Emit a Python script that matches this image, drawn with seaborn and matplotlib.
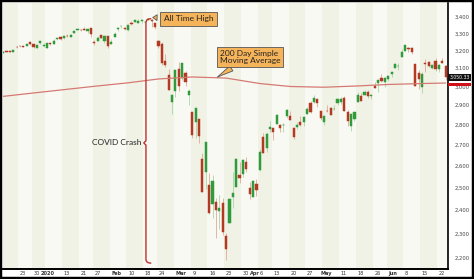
import matplotlib
matplotlib.use("Agg")
import matplotlib.pyplot as plt
import matplotlib.ticker as mticker
import matplotlib.transforms as mtransforms
from matplotlib.patches import Rectangle, PathPatch
from matplotlib.path import Path
import seaborn as sns
import numpy as np
import pandas as pd

# ---------------- data ----------------
dates = (
    ["2019-12-%s" % d for d in ["16", "17", "18", "19", "20", "23", "24", "26", "27", "30", "31"]]
    + ["2020-01-%s" % d for d in ["02", "03", "06", "07", "08", "09", "10", "13", "14", "15", "16", "17",
                                  "21", "22", "23", "24", "27", "28", "29", "30", "31"]]
    + ["2020-02-%s" % d for d in ["03", "04", "05", "06", "07", "10", "11", "12", "13", "14", "18", "19",
                                  "20", "21", "24", "25", "26", "27", "28"]]
    + ["2020-03-%s" % d for d in ["02", "03", "04", "05", "06", "09", "10", "11", "12", "13", "16", "17",
                                  "18", "19", "20", "23", "24", "25", "26", "27", "30", "31"]]
    + ["2020-04-%s" % d for d in ["01", "02", "03", "06", "07", "08", "09", "13", "14", "15", "16", "17",
                                  "20", "21", "22", "23", "24", "27", "28", "29", "30"]]
    + ["2020-05-%s" % d for d in ["01", "04", "05", "06", "07", "08", "11", "12", "13", "14", "15", "18",
                                  "19", "20", "21", "22", "26", "27", "28", "29"]]
    + ["2020-06-%s" % d for d in ["01", "02", "03", "04", "05", "08", "09", "10", "11", "12", "15", "16",
                                  "17", "18", "19", "22", "23", "24"]]
)

opens = [
    3183.63, 3195.40, 3195.21, 3192.32, 3223.33, 3226.05, 3225.45, 3227.20, 3247.23, 3240.09, 3215.18,
    3244.67, 3226.36, 3217.55, 3241.86, 3238.59, 3266.03, 3281.81, 3271.13, 3285.35, 3282.27, 3302.97,
    3323.66, 3321.03, 3330.02, 3315.77, 3333.10, 3247.16, 3255.35, 3289.46, 3256.45, 3282.33,
    3235.66, 3280.61, 3324.91, 3344.92, 3335.54, 3318.28, 3365.87, 3370.50, 3365.90, 3378.08, 3369.04,
    3380.39, 3380.45, 3360.50, 3257.61, 3238.94, 3139.90, 3062.54, 2916.90,
    2974.28, 3096.46, 3045.75, 3075.70, 2954.20, 2863.89, 2813.48, 2825.60, 2630.86, 2569.99, 2508.59,
    2425.66, 2436.50, 2393.48, 2431.94, 2290.71, 2344.44, 2457.77, 2501.29, 2555.87, 2558.98, 2614.69,
    2498.08, 2458.54, 2514.92, 2578.28, 2738.65, 2685.00, 2776.99, 2782.46, 2805.10, 2795.64, 2799.34,
    2842.43, 2845.62, 2784.81, 2787.89, 2810.42, 2812.64, 2854.65, 2909.96, 2918.46, 2930.91,
    2869.09, 2815.01, 2868.88, 2883.14, 2878.26, 2908.83, 2915.46, 2939.50, 2865.86, 2794.54, 2829.95,
    2913.86, 2948.59, 2953.63, 2969.95, 2948.05, 3004.08, 3015.65, 3046.61, 3025.17,
    3038.78, 3064.78, 3098.90, 3111.56, 3163.84, 3199.92, 3213.32, 3213.42, 3123.53, 3071.04, 2993.76,
    3131.00, 3136.13, 3101.64, 3140.29, 3094.42, 3138.70, 3114.40,
]
highs = [
    3197.71, 3198.22, 3198.48, 3205.48, 3225.65, 3227.78, 3226.43, 3240.08, 3247.93, 3240.92, 3231.72,
    3258.14, 3246.15, 3246.84, 3244.91, 3267.07, 3275.58, 3282.99, 3288.13, 3294.25, 3298.66, 3317.11,
    3329.88, 3329.79, 3337.77, 3326.88, 3333.18, 3258.85, 3285.78, 3293.47, 3285.91, 3282.33,
    3268.44, 3306.92, 3337.58, 3347.96, 3341.42, 3352.26, 3375.63, 3381.47, 3385.09, 3380.69, 3375.01,
    3393.52, 3389.15, 3360.76, 3259.81, 3246.99, 3182.51, 3097.07, 2959.72,
    3090.96, 3136.72, 3130.97, 3083.04, 2985.93, 2863.89, 2882.59, 2825.60, 2660.95, 2711.33, 2562.98,
    2553.93, 2453.57, 2466.97, 2453.01, 2300.73, 2449.71, 2571.42, 2637.01, 2615.91, 2631.80, 2641.39,
    2522.75, 2533.22, 2538.18, 2676.85, 2756.89, 2760.75, 2818.57, 2782.46, 2851.85, 2801.88, 2806.51,
    2879.22, 2868.98, 2785.54, 2815.10, 2844.90, 2842.71, 2887.72, 2921.15, 2954.86, 2930.91,
    2869.09, 2844.24, 2898.23, 2891.11, 2901.92, 2932.16, 2944.25, 2945.82, 2874.14, 2852.80, 2865.01,
    2968.09, 2964.21, 2980.29, 2978.50, 2956.76, 3021.72, 3036.25, 3068.67, 3049.17,
    3062.18, 3081.07, 3130.94, 3128.91, 3211.72, 3233.13, 3222.71, 3223.27, 3123.53, 3088.42, 3079.76,
    3153.45, 3141.16, 3120.00, 3155.53, 3120.92, 3154.90, 3115.01,
]
lows = [
    3183.63, 3191.03, 3191.14, 3192.32, 3216.03, 3222.30, 3220.51, 3227.20, 3234.37, 3216.57, 3212.03,
    3235.53, 3222.34, 3214.64, 3232.43, 3236.67, 3263.67, 3260.86, 3268.43, 3277.19, 3280.69, 3302.82,
    3318.86, 3316.61, 3320.04, 3301.87, 3281.53, 3234.50, 3253.22, 3271.89, 3242.80, 3214.68,
    3235.66, 3280.61, 3313.75, 3334.39, 3322.12, 3317.77, 3352.72, 3369.72, 3360.52, 3366.15, 3355.61,
    3378.83, 3341.02, 3328.45, 3214.65, 3118.77, 3108.99, 2977.39, 2855.84,
    2945.19, 2976.63, 3034.38, 2999.83, 2901.54, 2734.43, 2734.00, 2707.22, 2478.86, 2492.37, 2380.94,
    2367.04, 2280.52, 2319.78, 2295.56, 2191.86, 2344.44, 2407.53, 2500.72, 2520.02, 2545.28, 2571.15,
    2447.49, 2455.79, 2459.96, 2574.57, 2657.67, 2663.30, 2762.36, 2721.17, 2805.10, 2761.54, 2764.32,
    2830.88, 2820.43, 2727.10, 2775.95, 2794.26, 2791.76, 2852.89, 2860.71, 2912.16, 2892.47,
    2821.61, 2797.85, 2863.55, 2847.65, 2876.48, 2902.88, 2903.44, 2869.59, 2793.15, 2766.64, 2816.78,
    2913.86, 2922.35, 2953.63, 2938.57, 2933.59, 2988.17, 2969.75, 3023.40, 2998.61,
    3031.54, 3051.64, 3098.90, 3090.41, 3163.84, 3196.00, 3193.11, 3181.49, 2999.49, 2984.47, 2965.66,
    3076.06, 3108.03, 3093.51, 3083.11, 3079.39, 3127.12, 3032.13,
]
closes = [
    3191.45, 3192.52, 3191.14, 3205.37, 3221.22, 3224.01, 3223.38, 3239.91, 3240.02, 3221.29, 3230.78,
    3257.85, 3234.85, 3246.28, 3237.18, 3253.05, 3274.70, 3265.35, 3288.13, 3283.15, 3289.29, 3316.81,
    3329.62, 3320.79, 3321.75, 3325.54, 3295.47, 3243.63, 3276.24, 3273.40, 3283.66, 3225.52,
    3248.92, 3297.59, 3334.69, 3345.78, 3327.71, 3352.09, 3357.75, 3379.45, 3373.94, 3380.16, 3370.29,
    3386.15, 3373.23, 3337.75, 3225.89, 3128.21, 3116.39, 2978.76, 2954.22,
    3090.23, 3003.37, 3130.12, 3023.94, 2972.37, 2746.56, 2882.23, 2741.38, 2480.64, 2711.02, 2386.13,
    2529.19, 2398.10, 2409.39, 2304.92, 2237.40, 2447.33, 2475.56, 2630.07, 2541.47, 2626.65, 2584.59,
    2470.50, 2526.90, 2488.65, 2663.68, 2659.41, 2749.98, 2789.82, 2761.63, 2846.06, 2783.36, 2799.55,
    2874.56, 2823.16, 2736.56, 2799.31, 2797.80, 2836.74, 2878.48, 2863.39, 2939.51, 2912.43,
    2830.71, 2842.74, 2868.44, 2848.42, 2881.19, 2929.80, 2930.32, 2870.12, 2820.00, 2852.50, 2863.70,
    2953.91, 2922.94, 2971.61, 2948.51, 2955.45, 2991.77, 3036.13, 3029.73, 3044.31,
    3055.73, 3080.82, 3122.87, 3112.35, 3193.93, 3232.39, 3207.18, 3190.14, 3002.10, 3041.31, 3066.59,
    3124.74, 3113.49, 3115.34, 3097.74, 3117.86, 3131.29, 3050.33,
]

sma_dates = ["2019-12-16", "2019-12-30", "2020-01-13", "2020-01-27", "2020-02-10", "2020-02-24",
             "2020-03-09", "2020-03-23", "2020-04-06", "2020-04-20", "2020-05-04", "2020-05-18",
             "2020-06-01", "2020-06-15", "2020-06-24"]
sma_values = [2946, 2964, 2982, 3000, 3019, 3040, 3051, 3045, 3015, 2999, 2995, 3002, 3010, 3015, 3018]
last_close_label = "3,050.33"

y_ticks = [2200, 2300, 2400, 2500, 2600, 2700, 2800, 2900, 3000, 3100, 3200, 3300, 3400, 3500]
x_tick_dates = ["2019-12-23", "2019-12-30", "2020-01-02", "2020-01-13", "2020-01-21", "2020-01-27",
                "2020-02-03", "2020-02-10", "2020-02-18", "2020-02-24", "2020-03-02", "2020-03-09",
                "2020-03-16", "2020-03-23", "2020-03-30", "2020-04-01", "2020-04-06", "2020-04-13",
                "2020-04-20", "2020-04-27", "2020-05-01", "2020-05-11", "2020-05-18", "2020-05-26",
                "2020-06-01", "2020-06-08", "2020-06-15", "2020-06-22"]
x_tick_labels = ["23", "30", "2020", "13", "21", "27", "Feb", "10", "18", "24", "Mar", "9", "16", "23",
                 "30", "Apr", "6", "13", "20", "27", "May", "11", "18", "26", "Jun", "8", "15", "22"]
bold_labels = {"2020", "Feb", "Mar", "Apr", "May", "Jun"}

# ---------------- figure ----------------
sns.set_style("white")
plt.rcParams["font.family"] = ["Lato", "DejaVu Sans"]

df = pd.DataFrame({"date": pd.to_datetime(dates), "open": opens, "high": highs,
                   "low": lows, "close": closes})
df["pos"] = np.arange(len(df))
pos_of = {d: i for i, d in enumerate(dates)}

W, H = 474, 279
fig = plt.figure(figsize=(W / 100, H / 100), dpi=100)
fig.patch.set_facecolor("white")
ax = fig.add_axes([2.5 / W, 1 - 269 / H, (448 - 2.5) / W, (269 - 3) / H])
ax.set_facecolor("#f6f6ee")

# weekly background bands
week_key = df["date"].dt.isocalendar().week.values
starts = [0] + [i for i in range(1, len(df)) if week_key[i] != week_key[i - 1]]
starts.append(len(df))
band_cols = ["#f1f2e6", "#f9f9f4"]
for k in range(len(starts) - 1):
    ax.axvspan(starts[k] - 0.5, starts[k + 1] - 0.5, color=band_cols[k % 2], lw=0, zorder=0)
ax.axvspan(starts[-1] - 0.5, 140, color=band_cols[(len(starts) - 1) % 2], lw=0, zorder=0)

# candles
up = df["close"] >= df["open"]
green, red = "#2f9b3a", "#b23a22"
green_w, red_w = "#a3d3a3", "#dfa290"
body_lo = np.minimum(df["open"], df["close"])
body_hi = np.maximum(df["open"], df["close"])
for mask, c, wc in [(up, green, green_w), (~up, red, red_w)]:
    sub = df[mask]
    ax.vlines(sub["pos"], sub["low"], sub["high"], color=wc, lw=0.55, zorder=2)
    ax.bar(sub["pos"], (body_hi - body_lo)[mask], bottom=body_lo[mask], width=0.64,
           color=c, edgecolor=c, lw=0.35, zorder=3)

# 200-day SMA
sma_df = pd.DataFrame({"pos": [pos_of[d] for d in sma_dates], "sma": sma_values})
sns.lineplot(data=sma_df, x="pos", y="sma", ax=ax, color="#d47a72", lw=0.9, zorder=4)

ax.set_yscale("log")
ax.set_ylim(2157, 3487)
ax.set_xlim(-0.18, 131.7)
ax.yaxis.tick_right()
ax.yaxis.set_major_locator(mticker.FixedLocator(y_ticks))
ax.yaxis.set_minor_locator(mticker.NullLocator())
ax.yaxis.set_major_formatter(mticker.FuncFormatter(lambda v, p: f"{v:,.0f}"))
ax.tick_params(axis="y", length=0, pad=5, labelsize=3.8, labelcolor="#444444")
for t in ax.get_yticklabels():
    t.set_fontfamily(["DejaVu Sans"])

ax.set_xticks([pos_of[d] for d in x_tick_dates])
ax.set_xticklabels(x_tick_labels)
ax.tick_params(axis="x", length=0, pad=1.2, labelsize=3.6, labelcolor="#333333")
for t in ax.get_xticklabels():
    t.set_ha("left")
    t.set_fontfamily(["DejaVu Sans"])
    if t.get_text() in bold_labels:
        t.set_fontweight("bold")
ax.set_xlabel("")
ax.set_ylabel("")
ax.grid(False)

for s in ["left", "top"]:
    ax.spines[s].set_visible(False)
ax.spines["right"].set_color("black")
ax.spines["right"].set_linewidth(1.2)
ax.spines["bottom"].set_color("black")
ax.spines["bottom"].set_linewidth(1.4)

# right-side value tags (SMA tag drawn as plain red marker box)
blend = mtransforms.blended_transform_factory(ax.transAxes, ax.transData)
ax.add_patch(Rectangle((1.0, 3000), 0.052, sma_values[-1] - 3000, transform=blend,
                       fc="#d0101a", ec="none", clip_on=False, zorder=6))
ax.text(1.003, closes[-1], last_close_label, transform=blend, fontsize=3.3, color="white",
        va="center", ha="left", family=["DejaVu Sans"], clip_on=False,
        bbox=dict(boxstyle="square,pad=0.2", fc="#111111", ec="none"), zorder=7)

# callouts
orange, edge = "#f6b45a", "#555555"
ax.annotate("All Time High", xy=(0.331, 0.946), xycoords="axes fraction",
            xytext=(0.418, 0.94), textcoords="axes fraction", ha="center", va="center",
            fontsize=6, color="#222222",
            bbox=dict(boxstyle="square,pad=0.45", fc=orange, ec=edge, lw=0.6),
            arrowprops=dict(arrowstyle="wedge,tail_width=0.7,shrink_factor=0.5",
                            fc=orange, ec=edge, lw=0.6), zorder=8)
ax.annotate("200 Day Simple\nMoving Average", xy=(0.477, 0.716), xycoords="axes fraction",
            xytext=(0.555, 0.797), textcoords="axes fraction", ha="center", va="center",
            fontsize=6, color="#222222", linespacing=1.05, multialignment="left",
            bbox=dict(boxstyle="square,pad=0.3", fc=orange, ec=edge, lw=0.6),
            arrowprops=dict(arrowstyle="wedge,tail_width=0.7,shrink_factor=0.5",
                            fc=orange, ec=edge, lw=0.6), zorder=8)

# COVID crash brace
bx = 0.322
verts = [(0.334, 0.941), (bx, 0.941), (bx, 0.926),
         (bx, 0.482), (0.317, 0.474), (bx, 0.466),
         (bx, 0.036), (bx, 0.022), (0.334, 0.022)]
codes = [Path.MOVETO, Path.CURVE3, Path.CURVE3,
         Path.LINETO, Path.LINETO, Path.LINETO,
         Path.LINETO, Path.CURVE3, Path.CURVE3]
ax.add_patch(PathPatch(Path(verts, codes), transform=ax.transAxes, fill=False,
                       ec="#c0302a", lw=1.0, zorder=5))
ax.text(0.312, 0.474, "COVID Crash", transform=ax.transAxes, ha="right", va="center",
        fontsize=6, color="#222222", zorder=8)

# outer frame
fig.patches.append(Rectangle((0, 0), 1, 1, transform=fig.transFigure, fill=False,
                             ec="black", lw=3.2, zorder=10))

fig.savefig("out.png", dpi=100)
